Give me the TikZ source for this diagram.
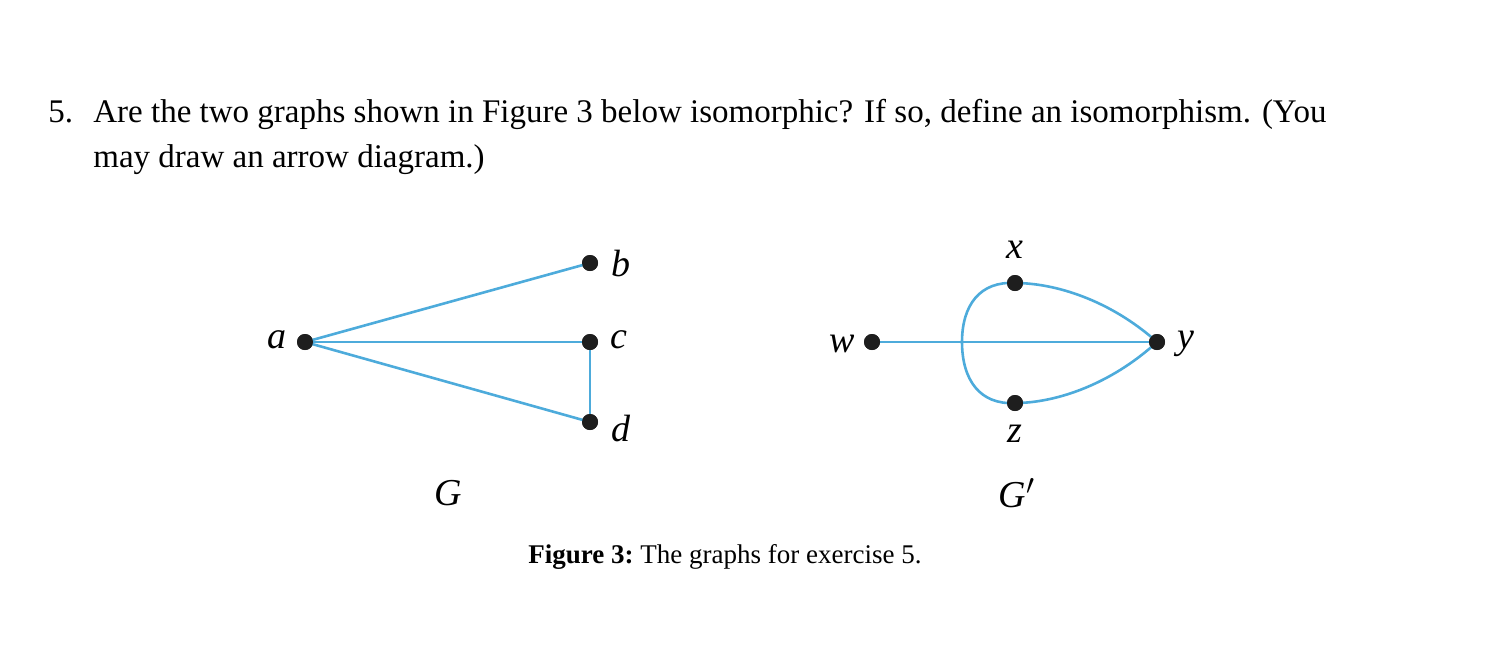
\documentclass[tikz,border=0pt]{standalone}
\usepackage{fontspec}
\setmainfont{Liberation Serif}
\begin{document}
\begin{tikzpicture}[x=0.5pt,y=-0.5pt,
  edge/.style={draw={rgb,255:red,77;green,171;blue,219},line width=1.3pt},
  vtx/.style={circle,fill={rgb,255:red,30;green,30;blue,30},inner sep=0pt,minimum size=8pt},
  lbl/.style={font=\fontsize{19}{19}\selectfont\itshape,inner sep=0pt},
  txt/.style={font=\fontsize{16.5}{16.5}\selectfont,inner sep=0pt,anchor=base west}]
\useasboundingbox (0,0) rectangle (1497,650);
\node[txt] (n5) at (48,122) {5.};
\node[txt] (l1) at (93,122) {Are the two graphs shown in Figure 3 below isomorphic? If so, define an isomorphism. (You};
\node[txt] (l2) at (93,167) {may draw an arrow diagram.)};
\node[vtx] (a) at (305,342) {};
\node[vtx] (b) at (590,263) {};
\node[vtx] (c) at (590,342) {};
\node[vtx] (d) at (590,422) {};
\node[vtx] (w) at (872,342) {};
\node[vtx] (x) at (1015,283) {};
\node[vtx] (y) at (1157,342) {};
\node[vtx] (z) at (1015,403) {};
\coordinate (m) at (962,342);
\begin{scope}[on background layer/.try]
\draw[edge] (a.center) -- (b.center);
\draw[edge] (a.center) -- (c.center);
\draw[edge] (a.center) -- (d.center);
\draw[edge] (c.center) -- (d.center);
\draw[edge] (w.center) -- (y.center);
\draw[edge] (y.center) .. controls (1110,300) and (1055,283) .. (x.center) .. controls (980,281) and (962,305) .. (m) .. controls (962,380) and (980,405) .. (z.center) .. controls (1055,403) and (1110,385) .. (y.center);
\end{scope}
\node[vtx] at (a) {};\node[vtx] at (b) {};\node[vtx] at (c) {};\node[vtx] at (d) {};
\node[vtx] at (w) {};\node[vtx] at (x) {};\node[vtx] at (y) {};\node[vtx] at (z) {};
\node[lbl] (la) at (277,340) {a};
\node[lbl] (lb) at (621,263) {b};
\node[lbl] (lc) at (619,340) {c};
\node[lbl] (ld) at (621,428) {d};
\node[lbl] (lw) at (842,344) {w};
\node[lbl] (lx) at (1015,250) {x};
\node[lbl] (ly) at (1186,344) {y};
\node[lbl] (lz) at (1015,434) {z};
\node[lbl] (G) at (448,493) {G};
\node[lbl] (Gp) at (1017,493) {G$'$};
\node[txt,anchor=base] (cap) at (725,563) {\fontsize{13.5}{13.5}\selectfont\textbf{Figure 3:}\ The graphs for exercise 5.};
\end{tikzpicture}
\end{document}
